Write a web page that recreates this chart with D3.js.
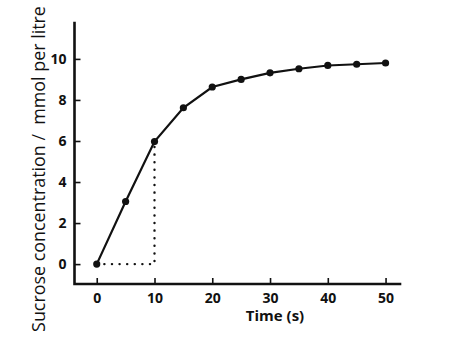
<!DOCTYPE html>
<html>
<head>
<meta charset="utf-8">
<script src="https://cdn.jsdelivr.net/npm/d3@7/dist/d3.min.js"></script>
<style>
  html, body { margin: 0; padding: 0; background: #fff; }
  svg { display: block; }
</style>
</head>
<body>
<svg id="chart" width="474" height="343"></svg>
<script>
// ---- data ----
const times = [0, 5, 10, 15, 20, 25, 30, 35, 40, 45, 50];
const sucrose = [0, 3.05, 5.97, 7.62, 8.63, 9.0, 9.32, 9.52, 9.68, 9.74, 9.8];
const xTickValues = [0, 10, 20, 30, 40, 50];
const yTickValues = [0, 2, 4, 6, 8, 10];
const xMinorTicks = [-2, 2, 4, 6, 8, 12, 14, 16, 18, 22, 24, 26, 28, 32, 34, 36, 38, 42, 44, 46, 48, 52];
const yMinorTicks = [-0.5, 0.5, 1, 1.5, 2.5, 3, 3.5, 4.5, 5, 5.5, 6.5, 7, 7.5, 8.5, 9, 9.5, 10.5, 11, 11.5];
const readTime = [10];   // dotted construction line at t = 10 s
const xLabel = "Time (s)";
const yLabel = "Sucrose concentration /  mmol per litre";

// ---- scales ----
const svg = d3.select("#chart");
const x = d3.scaleLinear().domain([-3.85, 52.5]).range([74.5, 400]);
const y = d3.scaleLinear().domain([-0.97, 11.75]).range([284, 23]);

const ink = "#111";
const font = "Open Sans, sans-serif";

// x axis ticks
const gx = svg.append("g").attr("transform", `translate(0,${y.range()[0]})`);
gx.call(d3.axisBottom(x).tickValues(xMinorTicks).tickSize(-3).tickFormat(""))
  .call(g => g.select(".domain").remove());
gx.call(d3.axisBottom(x).tickValues(xTickValues).tickSize(-6).tickPadding(9).tickFormat(d3.format("d")))
  .call(g => g.select(".domain").remove());
gx.selectAll(".tick line").attr("stroke", ink).attr("stroke-width", 1.6);
gx.selectAll(".tick text").attr("fill", ink).attr("font-family", font)
  .attr("font-weight", 700).attr("font-size", 14);

// y axis ticks
const gy = svg.append("g").attr("transform", `translate(${x.range()[0]},0)`);
gy.call(d3.axisLeft(y).tickValues(yMinorTicks).tickSize(-3).tickFormat(""))
  .call(g => g.select(".domain").remove());
gy.call(d3.axisLeft(y).tickValues(yTickValues).tickSize(-6).tickPadding(8).tickFormat(d3.format("d")))
  .call(g => g.select(".domain").remove());
gy.selectAll(".tick line").attr("stroke", ink).attr("stroke-width", 1.6);
gy.selectAll(".tick text").attr("fill", ink).attr("font-family", font)
  .attr("font-weight", 700).attr("font-size", 14);

// axis lines (thick)
svg.append("path")
  .attr("d", `M${x.range()[0]},${y.range()[1]}V${y.range()[0]}H${x.range()[1]}`)
  .attr("fill", "none").attr("stroke", ink).attr("stroke-width", 2.6)
  .attr("stroke-linecap", "square");

// dotted construction lines
const tRead = readTime[0];
const cRead = sucrose[times.indexOf(tRead)];
svg.append("path")
  .attr("d", d3.line()([[x(0), y(0)], [x(tRead), y(0)], [x(tRead), y(cRead)]]))
  .attr("fill", "none").attr("stroke", ink).attr("stroke-width", 2.4)
  .attr("stroke-linecap", "round").attr("stroke-dasharray", "0.1 7.5");

// data line
const pts = times.map((t, i) => [t, sucrose[i]]);
svg.append("path")
  .datum(pts)
  .attr("d", d3.line().x(d => x(d[0])).y(d => y(d[1])))
  .attr("fill", "none").attr("stroke", ink).attr("stroke-width", 2.2);

svg.selectAll("circle.pt").data(pts).join("circle")
  .attr("class", "pt")
  .attr("cx", d => x(d[0])).attr("cy", d => y(d[1]))
  .attr("r", 3.6).attr("fill", ink);

// axis titles
svg.append("text")
  .attr("x", 275).attr("y", 321)
  .attr("text-anchor", "middle")
  .attr("font-family", font).attr("font-weight", 700)
  .attr("font-size", 15).attr("fill", ink)
  .text(xLabel);

const yt = svg.append("text")
  .attr("transform", "translate(45,169) rotate(-90)")
  .attr("text-anchor", "middle")
  .style("white-space", "pre")
  .attr("font-family", font)
  .attr("font-size", 17).attr("fill", ink)
  .text(yLabel);
const len = yt.node().getComputedTextLength();
yt.attr("font-size", 17 * 326 / len);
</script>
</body>
</html>
